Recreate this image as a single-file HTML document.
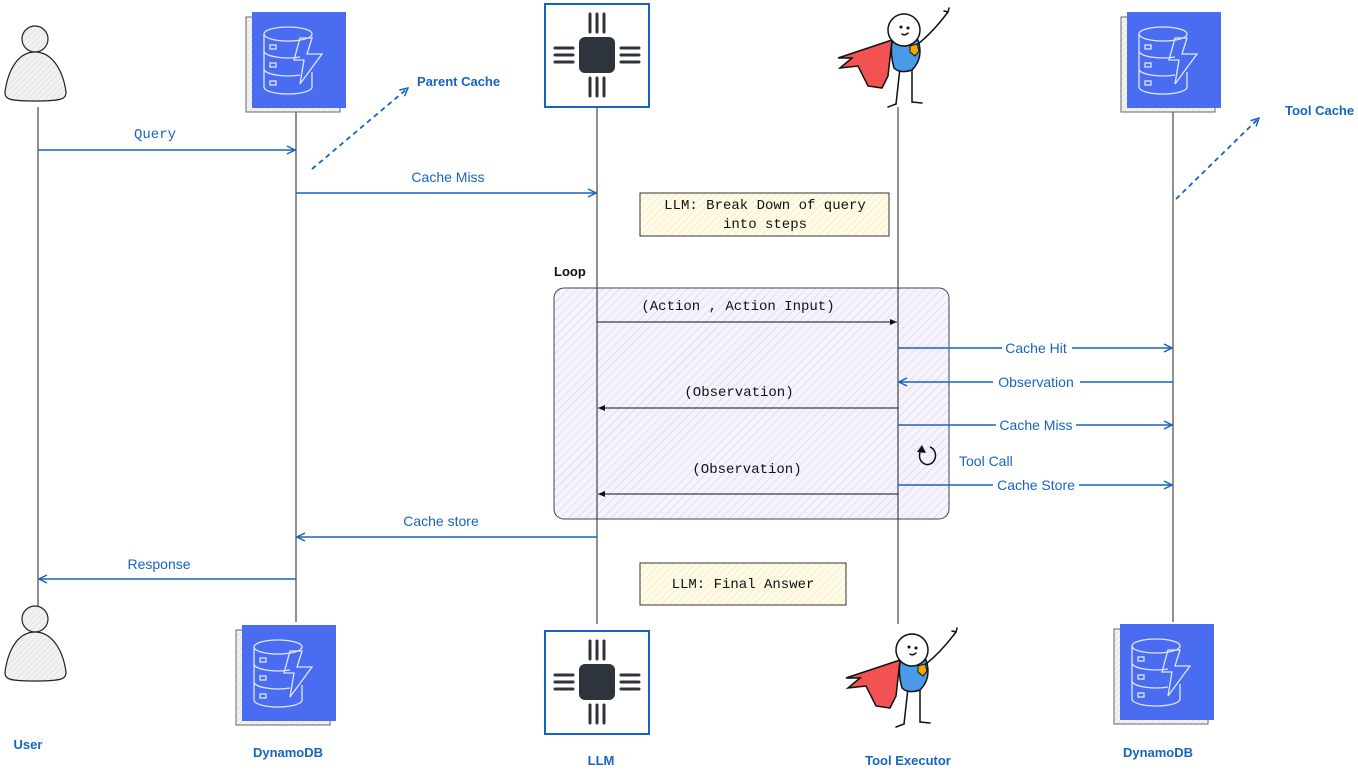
<!DOCTYPE html>
<html><head><meta charset="utf-8"><style>
html,body{margin:0;padding:0;background:#fff}
svg{display:block}
.m{font-family:"Liberation Mono",monospace;font-size:14px;fill:#111}
.b{font-family:"Liberation Sans",sans-serif;font-size:14px;fill:#1565c0}
.h{font-family:"Liberation Sans",sans-serif;font-size:13px;font-weight:bold;fill:#1565c0}
</style></head><body>
<svg width="1358" height="774" viewBox="0 0 1358 774" xmlns="http://www.w3.org/2000/svg">
<defs>
<pattern id="hatch" width="6" height="6" patternUnits="userSpaceOnUse" patternTransform="rotate(45)">
<rect width="6" height="6" fill="#f6f3fd"/><line x1="0" y1="0" x2="0" y2="6" stroke="#dcd5f2" stroke-width="1.5"/></pattern>
<pattern id="yh" width="5" height="5" patternUnits="userSpaceOnUse" patternTransform="rotate(45)">
<rect width="5" height="5" fill="#fffbe8"/><line x1="0" y1="0" x2="0" y2="5" stroke="#f3e7b0" stroke-width="1.2"/></pattern>
<pattern id="gh" width="4" height="4" patternUnits="userSpaceOnUse" patternTransform="rotate(45)">
<rect width="4" height="4" fill="#f2f2f2"/><line x1="0" y1="0" x2="0" y2="4" stroke="#d6d6d6" stroke-width="1"/></pattern>
<marker id="ab" markerWidth="10" markerHeight="10" refX="9" refY="5" orient="auto" markerUnits="userSpaceOnUse"><path d="M1,1 L9,5 L1,9" fill="none" stroke="#1565c0" stroke-width="1.5"/></marker>
<marker id="ak" markerWidth="8" markerHeight="8" refX="7" refY="4" orient="auto" markerUnits="userSpaceOnUse"><path d="M0,1 L7,4 L0,7z" fill="#111"/></marker>
<g id="dyn">
<rect x="-6" y="5" width="94" height="95" fill="url(#gh)" stroke="#666" stroke-width="1"/>
<rect x="0" y="0" width="94" height="96" fill="#4a6cf0"/>
<g fill="none" stroke="#dfe6ff" stroke-width="1.3">
<ellipse cx="36" cy="22" rx="24" ry="7"/>
<path d="M12,22 V75 A24,7 0 0 0 60,75 V60"/>
<path d="M12,39 A24,7 0 0 0 48,45 M12,57 A24,7 0 0 0 48,63"/>
<rect x="18" y="33" width="6" height="4"/><rect x="18" y="51" width="6" height="4"/><rect x="18" y="69" width="6" height="4"/>
<path d="M48,26 L60,26 L55,42 L70,42 L48,72 L52,48 L42,48 Z"/>
</g></g>
<g id="chip">
<rect x="0" y="0" width="104" height="103" fill="#fff" stroke="#1565c0" stroke-width="2"/>
<rect x="34" y="33" width="36" height="36" rx="6" fill="#2e343c"/>
<g stroke="#2e343c" stroke-width="3" stroke-linecap="round">
<line x1="45" y1="10" x2="45" y2="28"/><line x1="52" y1="10" x2="52" y2="28"/><line x1="59" y1="10" x2="59" y2="28"/>
<line x1="45" y1="74" x2="45" y2="92"/><line x1="52" y1="74" x2="52" y2="92"/><line x1="59" y1="74" x2="59" y2="92"/>
<line x1="10" y1="44" x2="28" y2="44"/><line x1="10" y1="51" x2="28" y2="51"/><line x1="10" y1="58" x2="28" y2="58"/>
<line x1="76" y1="44" x2="94" y2="44"/><line x1="76" y1="51" x2="94" y2="51"/><line x1="76" y1="58" x2="94" y2="58"/>
</g></g>
<g id="hero" stroke="#111" stroke-width="1.5" stroke-linecap="round" fill="none">
<path d="M54,34 L0,52 L14,52 L2,62 L20,60 L30,80 L44,82 L50,70 Z" fill="#f25252"/>
<line x1="62" y1="62" x2="58" y2="98"/><line x1="74" y1="62" x2="74" y2="96"/><line x1="50" y1="101" x2="58" y2="98"/><line x1="74" y1="96" x2="84" y2="97"/>
<path d="M54,36 Q66,28 80,34 Q86,52 74,64 Q62,68 56,62 Q52,48 54,36Z" fill="#4a9ae8"/>
<path d="M72,40 L79,38 L81,45 L77,50 L72,46Z" fill="#f2a900" stroke-width="1"/>
<path d="M80,38 Q95,26 110,6 M106,5 L110,6 L111,2"/>
<circle cx="66" cy="24" r="16" fill="#fff"/>
<circle cx="63" cy="21" r="0.8" fill="#111"/><circle cx="70" cy="22" r="0.8" fill="#111"/>
<path d="M64,28 Q67,30 70,27"/>
</g>
<g id="user">
<circle cx="35" cy="37" r="13" fill="url(#gh)" stroke="#222" stroke-width="1.2"/>
<path d="M35,50 C18,50 8,68 5,90 C5,97 8,99 35,99 C62,99 66,97 66,90 C63,68 52,50 35,50Z" fill="url(#gh)" stroke="#222" stroke-width="1.2"/>
</g>
</defs>

<g stroke="#222" stroke-width="1">
<line x1="38" y1="107" x2="38" y2="622"/><line x1="296" y1="110" x2="296" y2="622"/>
<line x1="597" y1="107" x2="597" y2="624"/><line x1="898" y1="107" x2="898" y2="624"/>
<line x1="1173" y1="110" x2="1173" y2="622"/>
</g>

<rect x="554" y="288" width="395" height="231" rx="10" fill="url(#hatch)" stroke="#444" stroke-width="1"/>
<g stroke="#222" stroke-width="1"><line x1="597" y1="288" x2="597" y2="519"/><line x1="898" y1="288" x2="898" y2="519"/></g>
<text x="554" y="276" font-family="Liberation Sans,sans-serif" font-size="13" font-weight="bold" fill="#111">Loop</text>

<use href="#user" x="0" y="2"/>
<use href="#dyn" x="252" y="12"/>
<use href="#chip" x="545" y="4"/>
<use href="#hero" x="838" y="6"/>
<use href="#dyn" x="1127" y="12"/>
<use href="#user" x="0" y="582"/>
<use href="#dyn" x="242" y="625"/>
<use href="#chip" x="545" y="631"/>
<use href="#hero" x="846" y="626"/>
<use href="#dyn" x="1120" y="624"/>

<text x="28" y="749" class="h" text-anchor="middle">User</text>
<text x="288" y="757" class="h" text-anchor="middle">DynamoDB</text>
<text x="601" y="765" class="h" text-anchor="middle">LLM</text>
<text x="908" y="765" class="h" text-anchor="middle">Tool Executor</text>
<text x="1158" y="757" class="h" text-anchor="middle">DynamoDB</text>
<text x="417" y="86" class="h">Parent Cache</text>
<text x="1285" y="115" class="h">Tool Cache</text>

<line x1="312" y1="169" x2="408" y2="88" stroke="#1565c0" stroke-width="1.8" stroke-dasharray="5,4" marker-end="url(#ab)"/>
<line x1="1176" y1="199" x2="1259" y2="118" stroke="#1565c0" stroke-width="1.8" stroke-dasharray="5,4" marker-end="url(#ab)"/>

<g stroke="#1565c0" stroke-width="1.5" fill="none">
<line x1="38" y1="150" x2="295" y2="150" marker-end="url(#ab)"/>
<line x1="296" y1="193" x2="596" y2="193" marker-end="url(#ab)"/>
<line x1="898" y1="348" x2="1172" y2="348" marker-end="url(#ab)"/>
<line x1="1173" y1="382" x2="899" y2="382" marker-end="url(#ab)"/>
<line x1="898" y1="425" x2="1172" y2="425" marker-end="url(#ab)"/>
<line x1="898" y1="485" x2="1172" y2="485" marker-end="url(#ab)"/>
<line x1="597" y1="537" x2="297" y2="537" marker-end="url(#ab)"/>
<line x1="296" y1="579" x2="39" y2="579" marker-end="url(#ab)"/>
</g>
<g fill="#fff">
<rect x="1002" y="339" width="70" height="18"/>
<rect x="993" y="373" width="87" height="18"/>
<rect x="996" y="416" width="80" height="18"/>
<rect x="993" y="476" width="86" height="18"/>
</g>
<g class="b">
<text x="155" y="138" text-anchor="middle" font-family="Liberation Mono,monospace" font-size="14" fill="#1565c0">Query</text>
<text x="448" y="182" text-anchor="middle">Cache Miss</text>
<text x="441" y="526" text-anchor="middle">Cache store</text>
<text x="159" y="569" text-anchor="middle">Response</text>
<text x="959" y="466">Tool Call</text>
<text x="1036" y="353" text-anchor="middle">Cache Hit</text>
<text x="1036" y="387" text-anchor="middle">Observation</text>
<text x="1036" y="430" text-anchor="middle">Cache Miss</text>
<text x="1036" y="490" text-anchor="middle">Cache Store</text>
</g>

<g stroke="#111" stroke-width="1" fill="none">
<line x1="597" y1="322" x2="897" y2="322" marker-end="url(#ak)"/>
<line x1="898" y1="408" x2="598" y2="408" marker-end="url(#ak)"/>
<line x1="898" y1="494" x2="598" y2="494" marker-end="url(#ak)"/>
</g>
<text x="738" y="310" class="m" text-anchor="middle">(Action , Action Input)</text>
<text x="739" y="396" class="m" text-anchor="middle">(Observation)</text>
<text x="747" y="473" class="m" text-anchor="middle">(Observation)</text>

<path d="M922,449 A8,9 0 1 0 930,447" fill="none" stroke="#111" stroke-width="1.5"/>
<path d="M917,452 L922,445 L926,453Z" fill="#111"/>

<rect x="640" y="193" width="249" height="43" fill="url(#yh)" stroke="#333" stroke-width="1"/>
<text x="765" y="209" class="m" text-anchor="middle">LLM: Break Down of query</text>
<text x="765" y="228" class="m" text-anchor="middle">into steps</text>
<rect x="640" y="563" width="206" height="42" fill="url(#yh)" stroke="#333" stroke-width="1"/>
<text x="743" y="588" class="m" text-anchor="middle">LLM: Final Answer</text>
</svg>
</body></html>
